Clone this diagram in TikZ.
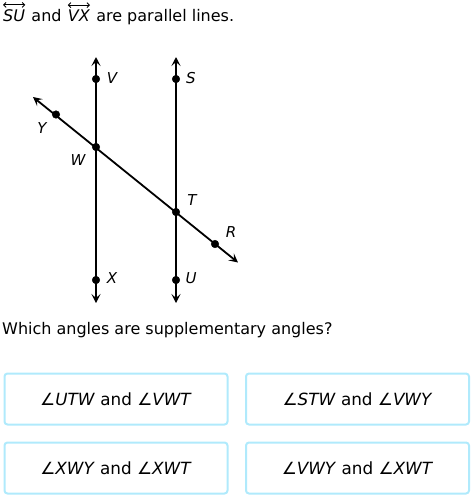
\documentclass[tikz,border=0pt]{standalone}
\usepackage{fontspec}
\setmainfont{DejaVu Sans}
\usetikzlibrary{arrows.meta}

\definecolor{choiceblue}{HTML}{B0EAFC}

\tikzset{
  geoline/.style={black, line width=1.8pt, {Stealth[length=9pt,width=9pt,inset=4pt]}-{Stealth[length=9pt,width=9pt,inset=4pt]}},
  overarrow/.style={black, line width=0.9pt, {Straight Barb[length=2.5pt,width=5pt]}-{Straight Barb[length=2.5pt,width=5pt]}},
  txt/.style={font=\fontsize{16}{19}\selectfont, inner sep=0pt, anchor=base west},
  lbl/.style={font=\fontsize{15}{18}\selectfont\itshape, inner sep=0pt},
  choice/.style={draw=choiceblue, line width=2pt, rounded corners=3pt, minimum width=223pt, minimum height=51pt, font=\fontsize{16.8}{20}\selectfont}
}

\begin{document}
\begin{tikzpicture}[x=1pt, y=-1pt]
        \useasboundingbox (0,0) rectangle (472,496);

        % heading
        \node[txt] (su) at (3,21) {\itshape SU};
        \node[txt] (and) at ([xshift=6pt]su.base east) {and};
        \node[txt] (vx) at ([xshift=6pt]and.base east) {\itshape VX};
        \node[txt] (rest) at ([xshift=6pt]vx.base east) {are parallel lines.};
        \draw[overarrow] ([yshift=4pt]su.north west) -- ([yshift=4pt]su.north east);
        \draw[overarrow] ([yshift=4pt]vx.north west) -- ([yshift=4pt]vx.north east);

        % question
        \node[txt] (question) at (2,334) {Which angles are supplementary angles?};

        % ends of the lines
        \coordinate (vtop) at (96,57);
        \coordinate (xbot) at (96,303);
        \coordinate (stop) at (176,57);
        \coordinate (ubot) at (176,303);
        \coordinate (ytip) at (33,97);
        \coordinate (rtip) at (238,262.5);

        % points
        \coordinate (V) at (96,79);
        \coordinate (W) at (96,147);
        \coordinate (X) at (96,280);
        \coordinate (S) at (176,79);
        \coordinate (T) at (176,212);
        \coordinate (U) at (176,280);
        \coordinate (Y) at (56,114.5);
        \coordinate (R) at (215,244);

        \draw[geoline] (vtop) -- (xbot);
        \draw[geoline] (stop) -- (ubot);
        \draw[geoline] (ytip) -- (rtip);

        \foreach \p in {V,W,X,S,T,U,Y,R}
          \filldraw[black] (\p) circle (3.8pt);

        \node[lbl] (labV) at (112,78) {V};
        \node[lbl] (labS) at (191,78) {S};
        \node[lbl] (labY) at (42,128) {Y};
        \node[lbl] (labW) at (78,160) {W};
        \node[lbl] (labT) at (192,200) {T};
        \node[lbl] (labR) at (231,232) {R};
        \node[lbl] (labX) at (112,278) {X};
        \node[lbl] (labU) at (191,278) {U};

        % answer choices
        \node[choice] (utw) at (116,399) {∠\textit{UTW} and ∠\textit{VWT}};
        \node[choice] (stw) at (357.5,399) {∠\textit{STW} and ∠\textit{VWY}};
        \node[choice] (xwy) at (116,468) {∠\textit{XWY} and ∠\textit{XWT}};
        \node[choice] (vwy) at (357.5,468) {∠\textit{VWY} and ∠\textit{XWT}};
      \end{tikzpicture}
\end{document}
